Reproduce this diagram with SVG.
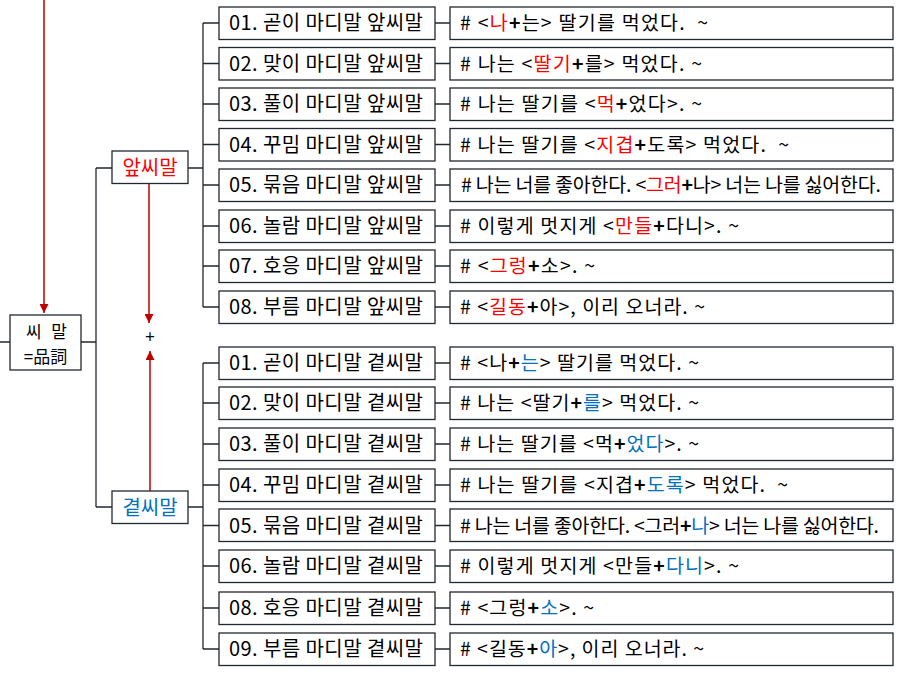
<svg xmlns="http://www.w3.org/2000/svg" width="907" height="683" viewBox="0 0 907 683">
<defs>
<style>
.box{fill:#fff;stroke:#222831;stroke-width:1.3}
.ln{fill:none;stroke:#222831;stroke-width:1.3}
.red{fill:none;stroke:#C00000;stroke-width:1.5}
text{font-family:"Noto Sans CJK KR","Noto Sans",sans-serif;font-size:20px;fill:#000}
.ex{font-size:19.5px}
.c{text-anchor:middle}
.r{fill:#FF0000}
.b{fill:#0070C0}
.p{font-weight:bold}
.rt{font-size:17px}
</style>
<marker id="ah" viewBox="0 0 10 10" refX="10" refY="5" markerWidth="9" markerHeight="9" markerUnits="userSpaceOnUse" orient="auto">
<path d="M0,0 L10,5 L0,10 z" fill="#C00000"/>
</marker>
</defs>
<rect width="907" height="683" fill="#fff"/>
<g id="connectors">
<line class="red" x1="44" y1="0" x2="44" y2="313" marker-end="url(#ah)"/>
<line class="red" x1="149" y1="183" x2="149" y2="323" marker-end="url(#ah)"/>
<line class="red" x1="150" y1="491" x2="150" y2="351" marker-end="url(#ah)"/>
<path class="ln" d="M0,342 H10 M81,342 H96 M96,168 V507 M96,168 H112 M96,507 H112"/>
<path class="ln" d="M188,168 H203 M203,23 V307 M203,23 H219 M203,63.5 H219 M203,104 H219 M203,144.5 H219 M203,185 H219 M203,226 H219 M203,266 H219 M203,307 H219"/>
<path class="ln" d="M188,507 H203 M203,363 V649 M203,363 H219 M203,403 H219 M203,444 H219 M203,485 H219 M203,525.5 H219 M203,566 H219 M203,608 H219 M203,649 H219"/>
<path class="ln" d="M435,23 H450 M435,63.5 H450 M435,104 H450 M435,144.5 H450 M435,185 H450 M435,226 H450 M435,266 H450 M435,307 H450"/>
<path class="ln" d="M435,363 H450 M435,403 H450 M435,444 H450 M435,485 H450 M435,525.5 H450 M435,566 H450 M435,608 H450 M435,649 H450"/>
</g>
<text class="c" x="150" y="343" style="font-size:17px">+</text>
<g id="root">
<rect class="box" x="10" y="315" width="71" height="55"/>
<text class="rt" x="26" y="337.5" textLength="41" lengthAdjust="spacing">씨 말</text>
<text class="c rt" x="45.5" y="362.5">=品詞</text>
</g>
<g id="ap">
<rect class="box" x="112" y="151" width="76" height="32.5"/>
<text class="c r" x="150" y="174.5">앞씨말</text>
</g>
<g id="gyeot">
<rect class="box" x="112" y="491" width="76" height="32.5"/>
<text class="c b" x="150" y="514.5">곁씨말</text>
</g>
<g id="a1"><rect class="box" x="219" y="7" width="216" height="32.5"/><text x="229" y="30" textLength="194">01. 곧이 마디말 앞씨말</text></g>
<g id="a2"><rect class="box" x="219" y="47.5" width="216" height="32.5"/><text x="229" y="70.5" textLength="194">02. 맞이 마디말 앞씨말</text></g>
<g id="a3"><rect class="box" x="219" y="88" width="216" height="32.5"/><text x="229" y="111" textLength="194">03. 풀이 마디말 앞씨말</text></g>
<g id="a4"><rect class="box" x="219" y="128.5" width="216" height="32.5"/><text x="229" y="151.5" textLength="194">04. 꾸밈 마디말 앞씨말</text></g>
<g id="a5"><rect class="box" x="219" y="169" width="216" height="32.5"/><text x="229" y="192" textLength="194">05. 묶음 마디말 앞씨말</text></g>
<g id="a6"><rect class="box" x="219" y="210" width="216" height="32.5"/><text x="229" y="233" textLength="194">06. 놀람 마디말 앞씨말</text></g>
<g id="a7"><rect class="box" x="219" y="250" width="216" height="32.5"/><text x="229" y="273" textLength="194">07. 호응 마디말 앞씨말</text></g>
<g id="a8"><rect class="box" x="219" y="291" width="216" height="32.5"/><text x="229" y="314" textLength="194">08. 부름 마디말 앞씨말</text></g>
<g id="ae1"><rect class="box" x="450" y="7" width="443" height="32.5"/><text class="ex" x="460" y="30" textLength="248" xml:space="preserve"># &lt;<tspan class="r">나</tspan><tspan class="p">+</tspan>는&gt; 딸기를 먹었다.  ~</text></g>
<g id="ae2"><rect class="box" x="450" y="47.5" width="443" height="32.5"/><text class="ex" x="460" y="70.5" textLength="242" xml:space="preserve"># 나는 &lt;<tspan class="r">딸기</tspan><tspan class="p">+</tspan>를&gt; 먹었다. ~</text></g>
<g id="ae3"><rect class="box" x="450" y="88" width="443" height="32.5"/><text class="ex" x="460" y="111" textLength="242" xml:space="preserve"># 나는 딸기를 &lt;<tspan class="r">먹</tspan><tspan class="p">+</tspan>었다&gt;. ~</text></g>
<g id="ae4"><rect class="box" x="450" y="128.5" width="443" height="32.5"/><text class="ex" x="460" y="151.5" textLength="329" xml:space="preserve"># 나는 딸기를 &lt;<tspan class="r">지겹</tspan><tspan class="p">+</tspan>도록&gt; 먹었다.  ~</text></g>
<g id="ae5"><rect class="box" x="450" y="169" width="443" height="32.5"/><text class="ex" x="461" y="192" textLength="420" xml:space="preserve"># 나는 너를 좋아한다. &lt;<tspan class="r">그러</tspan><tspan class="p">+</tspan>나&gt; 너는 나를 싫어한다.</text></g>
<g id="ae6"><rect class="box" x="450" y="210" width="443" height="32.5"/><text class="ex" x="460" y="233" textLength="279" xml:space="preserve"># 이렇게 멋지게 &lt;<tspan class="r">만들</tspan><tspan class="p">+</tspan>다니&gt;. ~</text></g>
<g id="ae7"><rect class="box" x="450" y="250" width="443" height="32.5"/><text class="ex" x="460" y="273" textLength="135" xml:space="preserve"># &lt;<tspan class="r">그렁</tspan><tspan class="p">+</tspan>소&gt;. ~</text></g>
<g id="ae8"><rect class="box" x="450" y="291" width="443" height="32.5"/><text class="ex" x="460" y="314" textLength="245" xml:space="preserve"># &lt;<tspan class="r">길동</tspan><tspan class="p">+</tspan>아&gt;, 이리 오너라. ~</text></g>
<g id="g1"><rect class="box" x="219" y="347" width="216" height="32.5"/><text x="229" y="370" textLength="194">01. 곧이 마디말 곁씨말</text></g>
<g id="g2"><rect class="box" x="219" y="387" width="216" height="32.5"/><text x="229" y="410" textLength="194">02. 맞이 마디말 곁씨말</text></g>
<g id="g3"><rect class="box" x="219" y="428" width="216" height="32.5"/><text x="229" y="451" textLength="194">03. 풀이 마디말 곁씨말</text></g>
<g id="g4"><rect class="box" x="219" y="469" width="216" height="32.5"/><text x="229" y="492" textLength="194">04. 꾸밈 마디말 곁씨말</text></g>
<g id="g5"><rect class="box" x="219" y="509" width="216" height="32.5"/><text x="229" y="532.5" textLength="194">05. 묶음 마디말 곁씨말</text></g>
<g id="g6"><rect class="box" x="219" y="550" width="216" height="32.5"/><text x="229" y="573" textLength="194">06. 놀람 마디말 곁씨말</text></g>
<g id="g7"><rect class="box" x="219" y="592" width="216" height="32.5"/><text x="229" y="615" textLength="194">08. 호응 마디말 곁씨말</text></g>
<g id="g8"><rect class="box" x="219" y="633" width="216" height="32.5"/><text x="229" y="656" textLength="194">09. 부름 마디말 곁씨말</text></g>
<g id="ge1"><rect class="box" x="450" y="347" width="443" height="32.5"/><text class="ex" x="460" y="370" textLength="239" xml:space="preserve"># &lt;나<tspan class="p">+</tspan><tspan class="b">는</tspan>&gt; 딸기를 먹었다. ~</text></g>
<g id="ge2"><rect class="box" x="450" y="387" width="443" height="32.5"/><text class="ex" x="460" y="410" textLength="239" xml:space="preserve"># 나는 &lt;딸기<tspan class="p">+</tspan><tspan class="b">를</tspan>&gt; 먹었다. ~</text></g>
<g id="ge3"><rect class="box" x="450" y="428" width="443" height="32.5"/><text class="ex" x="460" y="451" textLength="239" xml:space="preserve"># 나는 딸기를 &lt;먹<tspan class="p">+</tspan><tspan class="b">었다</tspan>&gt;. ~</text></g>
<g id="ge4"><rect class="box" x="450" y="469" width="443" height="32.5"/><text class="ex" x="460" y="492" textLength="328" xml:space="preserve"># 나는 딸기를 &lt;지겹<tspan class="p">+</tspan><tspan class="b">도록</tspan>&gt; 먹었다.  ~</text></g>
<g id="ge5"><rect class="box" x="450" y="509" width="443" height="32.5"/><text class="ex" x="460" y="532.5" textLength="419" xml:space="preserve"># 나는 너를 좋아한다. &lt;그러<tspan class="p">+</tspan><tspan class="b">나</tspan>&gt; 너는 나를 싫어한다.</text></g>
<g id="ge6"><rect class="box" x="450" y="550" width="443" height="32.5"/><text class="ex" x="460" y="573" textLength="279" xml:space="preserve"># 이렇게 멋지게 &lt;만들<tspan class="p">+</tspan><tspan class="b">다니</tspan>&gt;. ~</text></g>
<g id="ge7"><rect class="box" x="450" y="592" width="443" height="32.5"/><text class="ex" x="460" y="615" textLength="134" xml:space="preserve"># &lt;그렁<tspan class="p">+</tspan><tspan class="b">소</tspan>&gt;. ~</text></g>
<g id="ge8"><rect class="box" x="450" y="633" width="443" height="32.5"/><text class="ex" x="460" y="656" textLength="244" xml:space="preserve"># &lt;길동<tspan class="p">+</tspan><tspan class="b">아</tspan>&gt;, 이리 오너라. ~</text></g>
</svg>
